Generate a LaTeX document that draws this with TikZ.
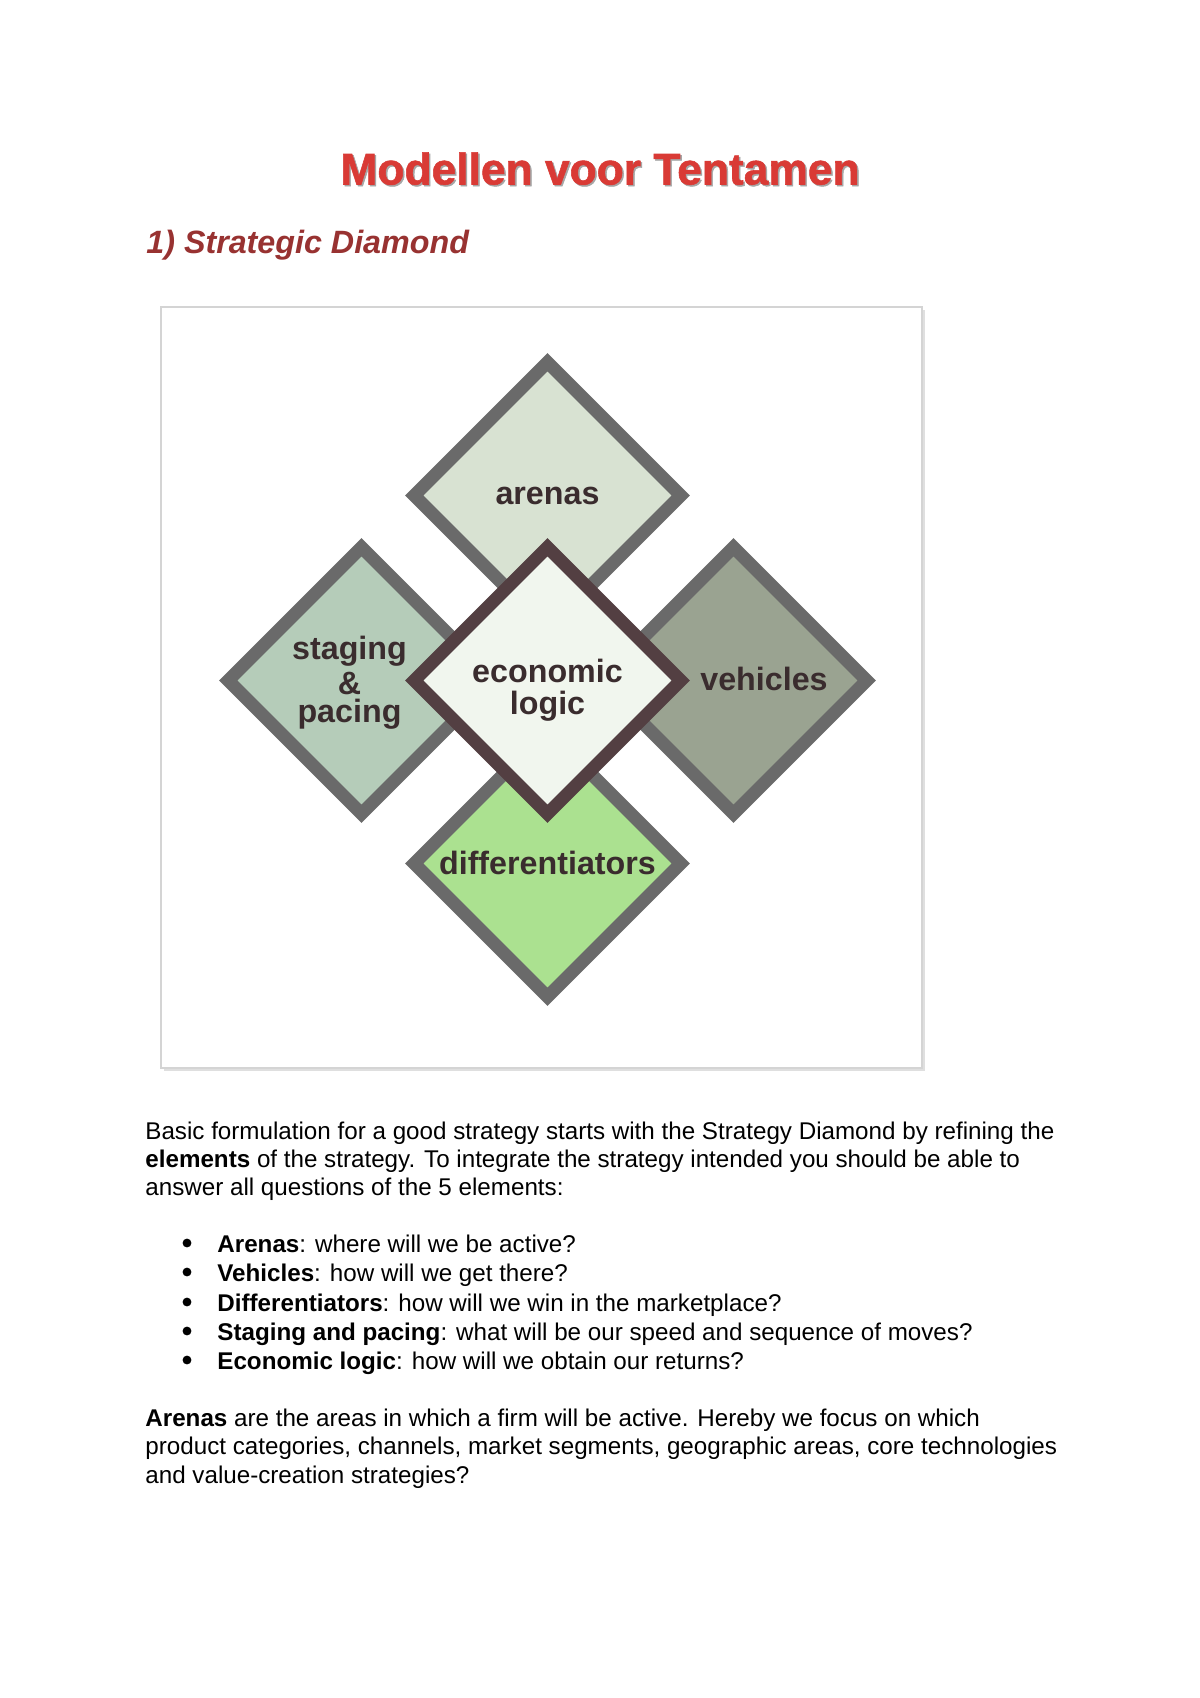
\documentclass[tikz,border=0pt]{standalone}
\usepackage{fontspec}
\setmainfont{Liberation Sans}
\newfontface\titlefont{Liberation Sans Bold}[FakeBold=1.2]
\usetikzlibrary{shapes.geometric,shadows}
\definecolor{titlered}{HTML}{D93A35}
\definecolor{headred}{HTML}{983231}
\definecolor{labelcol}{HTML}{3A2C2E}
\definecolor{greyedge}{HTML}{6A6A6A}
\definecolor{coreedge}{HTML}{533F42}
\definecolor{arenafill}{HTML}{D8E2D2}
\definecolor{stagefill}{HTML}{B5CCB9}
\definecolor{vehfill}{HTML}{9AA391}
\definecolor{difffill}{HTML}{ABE190}
\definecolor{corefill}{HTML}{F1F6EE}
\tikzset{
  dia/.style={diamond, aspect=1, draw=greyedge, line width=6.4pt, line join=miter,
    minimum width=134.9pt, minimum height=134.9pt, inner sep=0pt},
  dlabel/.style={anchor=base, inner sep=0pt, text=labelcol, font=\fontsize{16}{19}\selectfont\bfseries},
  body/.style={anchor=base west, inner sep=0pt, font=\fontsize{12}{14}\selectfont},
  bul/.style={circle, fill=black, inner sep=0pt, minimum size=4.4pt},
  framebox/.style={draw=black!17, line width=1.1pt, fill=white, minimum width=377.5pt, minimum height=377.5pt, inner sep=0pt,
    drop shadow={opacity=0.25, shadow xshift=1.6pt, shadow yshift=-1.6pt}}
}
\begin{document}
\begin{tikzpicture}[x=0.49607pt,y=-0.49607pt]
\useasboundingbox[fill=white] (0,0) rectangle (1200,1698);

% title
\node[anchor=base, inner sep=0pt, text=black!35, font=\fontsize{22}{26}\selectfont\titlefont] (titleshadow) at (601.5,186) {Modellen voor Tentamen};
\node[anchor=base, inner sep=0pt, text=titlered, font=\fontsize{22}{26}\selectfont\titlefont] (title) at (600,184.5) {Modellen voor Tentamen};

% heading
\node[anchor=base west, inner sep=0pt, text=headred, font=\fontsize{16}{19}\selectfont\bfseries\itshape] (heading) at (146,253) {1) Strategic Diamond};

% frame
\node[framebox] (frame) at (541.5,687.5) {};

% diamonds
\node[dia, fill=arenafill] (arenas) at (547.5,495.5) {};
\node[dia, fill=stagefill] (staging) at (361.5,680.5) {};
\node[dia, fill=vehfill] (vehicles) at (733.5,680.5) {};
\node[dia, fill=difffill] (diff) at (547.5,863.5) {};
\node[dia, fill=corefill, draw=coreedge] (core) at (547.5,680.5) {};

% diamond labels
\node[dlabel] (larenas) at (547.5,504) {arenas};
\node[dlabel] (lecon1) at (547.5,682.5) {economic};
\node[dlabel] (lecon2) at (547.5,714.5) {logic};
\node[dlabel] (lstage1) at (349.5,659.5) {staging};
\node[dlabel] (lstage2) at (349.5,694.5) {\&};
\node[dlabel] (lstage3) at (349.5,722.5) {pacing};
\node[dlabel] (lveh) at (764,690.5) {vehicles};
\node[dlabel] (ldiff) at (547.5,874.5) {differentiators};

% body
\node[body] (p1a) at (145,1139) {Basic formulation for a good strategy starts with the Strategy Diamond by refining the};
\node[body] (p1b) at (145,1167) {\textbf{elements} of the strategy. To integrate the strategy intended you should be able to};
\node[body] (p1c) at (145,1195) {answer all questions of the 5 elements:};

\node[bul] (b1) at (187,1243) {};
\node[body] (i1) at (217,1252) {\textbf{Arenas}: where will we be active?};
\node[bul] (b2) at (187,1272) {};
\node[body] (i2) at (217,1281) {\textbf{Vehicles}: how will we get there?};
\node[bul] (b3) at (187,1302) {};
\node[body] (i3) at (217,1311) {\textbf{Differentiators}: how will we win in the marketplace?};
\node[bul] (b4) at (187,1331) {};
\node[body] (i4) at (217,1340) {\textbf{Staging and pacing}: what will be our speed and sequence of moves?};
\node[bul] (b5) at (187,1360) {};
\node[body] (i5) at (217,1369) {\textbf{Economic logic}: how will we obtain our returns?};

\node[body] (p2a) at (145,1426) {\textbf{Arenas} are the areas in which a firm will be active. Hereby we focus on which};
\node[body] (p2b) at (145,1454) {product categories, channels, market segments, geographic areas, core technologies};
\node[body] (p2c) at (145,1483) {and value-creation strategies?};
\end{tikzpicture}
\end{document}
